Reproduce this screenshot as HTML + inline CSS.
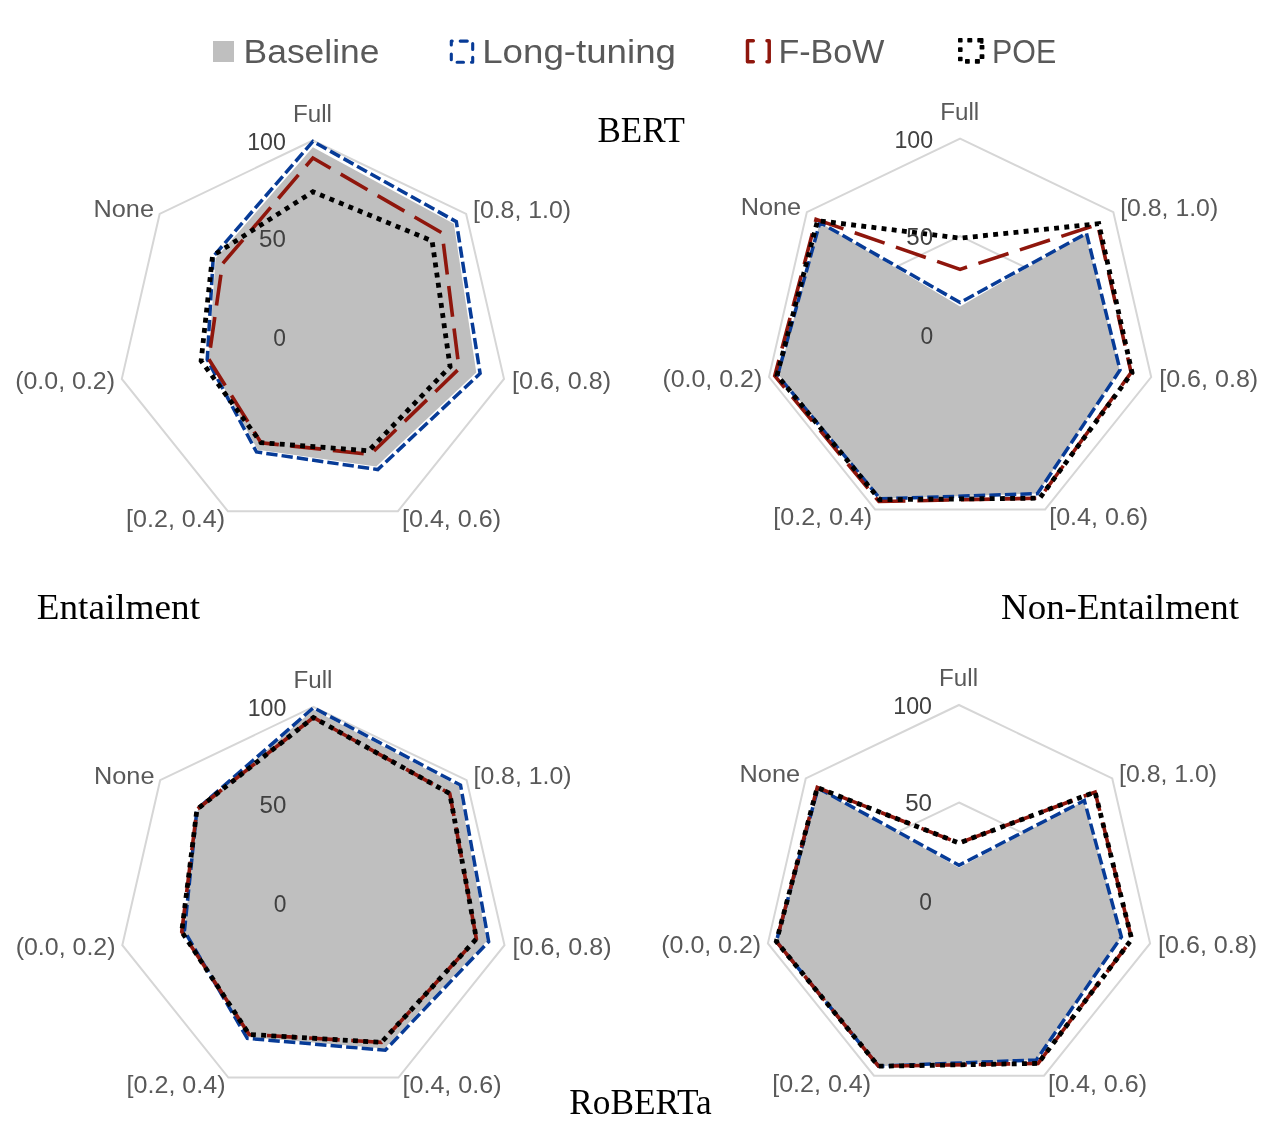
<!DOCTYPE html>
<html><head><meta charset="utf-8"><style>
html,body{margin:0;padding:0;background:#fff;}
body{width:1283px;height:1145px;overflow:hidden;}
svg{display:block;will-change:transform;}
.c{font-family:"Liberation Sans",sans-serif;font-size:23.5px;fill:#595959;}
.v{font-family:"Liberation Sans",sans-serif;font-size:23.5px;fill:#404040;}
.t{font-family:"Liberation Serif",serif;font-size:35px;fill:#000;}
.l{font-family:"Liberation Sans",sans-serif;font-size:34px;fill:#595959;}
</style></head><body>
<svg width="1283" height="1145" viewBox="0 0 1283 1145">
<polygon points="312.90,140.48 466.14,213.91 503.99,378.90 397.94,511.21 227.86,511.21 121.81,378.90 159.66,213.91" fill="none" stroke="#d6d6d6" stroke-width="2" stroke-linejoin="miter"/>
<polygon points="312.90,237.99 389.52,274.70 408.44,357.20 355.42,423.35 270.38,423.35 217.36,357.20 236.28,274.70" fill="none" stroke="#d6d6d6" stroke-width="2"/>
<polygon points="312.90,147.31 453.88,223.63 476.28,372.60 376.26,466.40 257.62,449.71 208.76,359.15 215.59,258.29" fill="#bfbfbf" stroke="none"/>
<path d="M312.90,141.46 L456.33,221.69 L480.10,373.47 L377.79,469.56 L256.52,451.99 L207.23,359.50 L213.29,256.46 Z" fill="none" stroke="#073b97" stroke-width="3.5" stroke-dasharray="11.310 4.117" stroke-dashoffset="11.111" stroke-linejoin="miter"/>
<path d="M312.90,158.03 L442.08,233.00 L459.08,368.70 L370.47,454.45 L261.02,442.68 L208.76,359.15 L222.49,263.76 Z" fill="none" stroke="#8f160c" stroke-width="3.6" stroke-dasharray="30.965 11.711" stroke-dashoffset="10.520" stroke-linejoin="miter"/>
<path d="M312.90,191.77 L432.12,240.90 L450.10,366.66 L368.69,450.76 L261.02,442.68 L201.11,360.89 L212.53,255.86 Z" fill="none" stroke="#000000" stroke-width="4.8" stroke-dasharray="4.908 5.309" stroke-dashoffset="2.454" stroke-linejoin="miter"/>
<text x="285.9" y="149.5" text-anchor="end" class="v" textLength="38.7" lengthAdjust="spacingAndGlyphs">100</text>
<text x="285.9" y="246.5" text-anchor="end" class="v" textLength="26.8" lengthAdjust="spacingAndGlyphs">50</text>
<text x="285.9" y="345.5" text-anchor="end" class="v" textLength="12.7" lengthAdjust="spacingAndGlyphs">0</text>
<text x="312.5" y="121.5" text-anchor="middle" class="c" textLength="39.0" lengthAdjust="spacingAndGlyphs">Full</text>
<text x="473.0" y="217.5" text-anchor="start" class="c" textLength="98.0" lengthAdjust="spacingAndGlyphs">[0.8, 1.0)</text>
<text x="512.0" y="388.5" text-anchor="start" class="c" textLength="99.0" lengthAdjust="spacingAndGlyphs">[0.6, 0.8)</text>
<text x="402.0" y="527.1" text-anchor="start" class="c" textLength="99.0" lengthAdjust="spacingAndGlyphs">[0.4, 0.6)</text>
<text x="225.0" y="527.1" text-anchor="end" class="c" textLength="98.9" lengthAdjust="spacingAndGlyphs">[0.2, 0.4)</text>
<text x="115.0" y="388.5" text-anchor="end" class="c" textLength="99.8" lengthAdjust="spacingAndGlyphs">(0.0, 0.2)</text>
<text x="154.0" y="217.2" text-anchor="end" class="c" textLength="60.5" lengthAdjust="spacingAndGlyphs">None</text>
<polygon points="960.10,138.68 1113.34,212.11 1151.19,377.10 1045.14,509.41 875.06,509.41 769.01,377.10 806.86,212.11" fill="none" stroke="#d6d6d6" stroke-width="2" stroke-linejoin="miter"/>
<polygon points="960.10,236.19 1036.72,272.90 1055.64,355.40 1002.62,421.55 917.58,421.55 864.56,355.40 883.48,272.90" fill="none" stroke="#d6d6d6" stroke-width="2"/>
<polygon points="960.10,306.40 1085.76,233.99 1119.66,369.94 1037.49,493.59 880.16,498.86 778.57,374.93 819.89,222.44" fill="#bfbfbf" stroke="none"/>
<path d="M960.10,302.50 L1086.52,233.39 L1120.04,370.02 L1037.49,493.59 L880.16,498.86 L777.61,375.14 L819.89,222.44 Z" fill="none" stroke="#073b97" stroke-width="3.5" stroke-dasharray="11.383 4.144" stroke-dashoffset="11.184" stroke-linejoin="miter"/>
<path d="M960.10,269.34 L1097.71,224.51 L1131.12,372.54 L1039.70,498.16 L878.89,501.50 L774.75,375.79 L816.06,219.40 Z" fill="none" stroke="#8f160c" stroke-width="3.6" stroke-dasharray="31.640 11.966" stroke-dashoffset="24.338" stroke-linejoin="miter"/>
<path d="M960.10,238.14 L1098.78,223.66 L1132.08,372.76 L1039.70,498.16 L879.74,499.74 L777.04,375.27 L817.59,220.62 Z" fill="none" stroke="#000000" stroke-width="4.8" stroke-dasharray="4.908 5.309" stroke-dashoffset="7.613" stroke-linejoin="miter"/>
<text x="933.1" y="147.7" text-anchor="end" class="v" textLength="38.7" lengthAdjust="spacingAndGlyphs">100</text>
<text x="933.1" y="244.7" text-anchor="end" class="v" textLength="26.8" lengthAdjust="spacingAndGlyphs">50</text>
<text x="933.1" y="343.7" text-anchor="end" class="v" textLength="12.7" lengthAdjust="spacingAndGlyphs">0</text>
<text x="959.7" y="119.7" text-anchor="middle" class="c" textLength="39.0" lengthAdjust="spacingAndGlyphs">Full</text>
<text x="1120.2" y="215.7" text-anchor="start" class="c" textLength="98.0" lengthAdjust="spacingAndGlyphs">[0.8, 1.0)</text>
<text x="1159.2" y="386.7" text-anchor="start" class="c" textLength="99.0" lengthAdjust="spacingAndGlyphs">[0.6, 0.8)</text>
<text x="1049.2" y="525.3" text-anchor="start" class="c" textLength="99.0" lengthAdjust="spacingAndGlyphs">[0.4, 0.6)</text>
<text x="872.2" y="525.3" text-anchor="end" class="c" textLength="98.9" lengthAdjust="spacingAndGlyphs">[0.2, 0.4)</text>
<text x="762.2" y="386.7" text-anchor="end" class="c" textLength="99.8" lengthAdjust="spacingAndGlyphs">(0.0, 0.2)</text>
<text x="801.2" y="215.4" text-anchor="end" class="c" textLength="60.5" lengthAdjust="spacingAndGlyphs">None</text>
<polygon points="313.40,706.78 466.64,780.21 504.49,945.20 398.44,1077.51 228.36,1077.51 122.31,945.20 160.16,780.21" fill="none" stroke="#d6d6d6" stroke-width="2" stroke-linejoin="miter"/>
<polygon points="313.40,804.29 390.02,841.00 408.94,923.50 355.92,989.65 270.88,989.65 217.86,923.50 236.78,841.00" fill="none" stroke="#d6d6d6" stroke-width="2"/>
<polygon points="313.40,709.71 458.98,786.29 486.71,941.16 384.41,1048.52 247.92,1037.09 184.42,931.09 197.70,810.00" fill="#bfbfbf" stroke="none"/>
<path d="M313.40,707.76 L460.51,785.07 L488.63,941.59 L385.26,1050.27 L247.32,1038.32 L184.42,931.09 L196.94,809.39 Z" fill="none" stroke="#073b97" stroke-width="3.5" stroke-dasharray="11.447 4.167" stroke-dashoffset="12.250" stroke-linejoin="miter"/>
<path d="M313.40,717.51 L449.78,793.58 L476.40,938.82 L381.43,1042.37 L249.19,1034.46 L181.74,931.70 L196.94,809.39 Z" fill="none" stroke="#8f160c" stroke-width="3.6" stroke-dasharray="30.642 11.589" stroke-dashoffset="20.624" stroke-linejoin="miter"/>
<path d="M313.40,717.51 L449.78,793.58 L476.40,938.82 L381.43,1042.37 L249.19,1034.46 L181.74,931.70 L196.94,809.39 Z" fill="none" stroke="#000000" stroke-width="4.8" stroke-dasharray="4.912 5.313" stroke-dashoffset="2.456" stroke-linejoin="miter"/>
<text x="286.4" y="715.8" text-anchor="end" class="v" textLength="38.7" lengthAdjust="spacingAndGlyphs">100</text>
<text x="286.4" y="812.8" text-anchor="end" class="v" textLength="26.8" lengthAdjust="spacingAndGlyphs">50</text>
<text x="286.4" y="911.8" text-anchor="end" class="v" textLength="12.7" lengthAdjust="spacingAndGlyphs">0</text>
<text x="313.0" y="687.8" text-anchor="middle" class="c" textLength="39.0" lengthAdjust="spacingAndGlyphs">Full</text>
<text x="473.5" y="783.8" text-anchor="start" class="c" textLength="98.0" lengthAdjust="spacingAndGlyphs">[0.8, 1.0)</text>
<text x="512.5" y="954.8" text-anchor="start" class="c" textLength="99.0" lengthAdjust="spacingAndGlyphs">[0.6, 0.8)</text>
<text x="402.5" y="1093.4" text-anchor="start" class="c" textLength="99.0" lengthAdjust="spacingAndGlyphs">[0.4, 0.6)</text>
<text x="225.5" y="1093.4" text-anchor="end" class="c" textLength="98.9" lengthAdjust="spacingAndGlyphs">[0.2, 0.4)</text>
<text x="115.5" y="954.8" text-anchor="end" class="c" textLength="99.8" lengthAdjust="spacingAndGlyphs">(0.0, 0.2)</text>
<text x="154.5" y="783.5" text-anchor="end" class="c" textLength="60.5" lengthAdjust="spacingAndGlyphs">None</text>
<polygon points="959.00,704.98 1112.24,778.41 1150.09,943.40 1044.04,1075.71 873.96,1075.71 767.91,943.40 805.76,778.41" fill="none" stroke="#d6d6d6" stroke-width="2" stroke-linejoin="miter"/>
<polygon points="959.00,802.49 1035.62,839.20 1054.54,921.70 1001.52,987.85 916.48,987.85 863.46,921.70 882.38,839.20" fill="none" stroke="#d6d6d6" stroke-width="2"/>
<polygon points="959.00,867.82 1083.89,800.90 1121.42,936.89 1036.39,1059.89 878.55,1066.22 776.32,941.49 818.79,788.74" fill="#bfbfbf" stroke="none"/>
<path d="M959.00,865.29 L1084.35,800.54 L1121.42,936.89 L1036.39,1059.89 L878.55,1066.22 L776.32,941.49 L818.02,788.13 Z" fill="none" stroke="#073b97" stroke-width="3.5" stroke-dasharray="11.377 4.142" stroke-dashoffset="5.689" stroke-linejoin="miter"/>
<path d="M959.00,843.05 L1095.08,792.03 L1131.74,939.23 L1038.09,1063.41 L878.55,1066.22 L776.32,941.49 L817.25,787.53 Z" fill="none" stroke="#8f160c" stroke-width="3.6" stroke-dasharray="31.489 11.909" stroke-dashoffset="40.370" stroke-linejoin="miter"/>
<path d="M959.00,843.05 L1095.08,792.03 L1131.74,939.23 L1038.09,1063.41 L878.55,1066.22 L776.32,941.49 L817.25,787.53 Z" fill="none" stroke="#000000" stroke-width="4.8" stroke-dasharray="4.917 5.318" stroke-dashoffset="7.024" stroke-linejoin="miter"/>
<text x="932.0" y="714.0" text-anchor="end" class="v" textLength="38.7" lengthAdjust="spacingAndGlyphs">100</text>
<text x="932.0" y="811.0" text-anchor="end" class="v" textLength="26.8" lengthAdjust="spacingAndGlyphs">50</text>
<text x="932.0" y="910.0" text-anchor="end" class="v" textLength="12.7" lengthAdjust="spacingAndGlyphs">0</text>
<text x="958.6" y="686.0" text-anchor="middle" class="c" textLength="39.0" lengthAdjust="spacingAndGlyphs">Full</text>
<text x="1119.1" y="782.0" text-anchor="start" class="c" textLength="98.0" lengthAdjust="spacingAndGlyphs">[0.8, 1.0)</text>
<text x="1158.1" y="953.0" text-anchor="start" class="c" textLength="99.0" lengthAdjust="spacingAndGlyphs">[0.6, 0.8)</text>
<text x="1048.1" y="1091.6" text-anchor="start" class="c" textLength="99.0" lengthAdjust="spacingAndGlyphs">[0.4, 0.6)</text>
<text x="871.1" y="1091.6" text-anchor="end" class="c" textLength="98.9" lengthAdjust="spacingAndGlyphs">[0.2, 0.4)</text>
<text x="761.1" y="953.0" text-anchor="end" class="c" textLength="99.8" lengthAdjust="spacingAndGlyphs">(0.0, 0.2)</text>
<text x="800.1" y="781.7" text-anchor="end" class="c" textLength="60.5" lengthAdjust="spacingAndGlyphs">None</text>
<text x="597.4" y="141.6" class="t" textLength="87.4" lengthAdjust="spacingAndGlyphs">BERT</text>
<text x="36.8" y="618.7" class="t" textLength="163.2" lengthAdjust="spacingAndGlyphs">Entailment</text>
<text x="1001" y="618.8" class="t" textLength="238" lengthAdjust="spacingAndGlyphs">Non-Entailment</text>
<text x="569.2" y="1114.3" class="t" textLength="142.6" lengthAdjust="spacingAndGlyphs">RoBERTa</text>
<rect x="213" y="41" width="21" height="21" fill="#bfbfbf"/>
<text x="243.6" y="63.3" class="l" textLength="135.8" lengthAdjust="spacingAndGlyphs">Baseline</text>
<path d="M451.3,45 V41.1 H452.2 M460.2,41.1 H467.3 M472.7,43.6 V49.5 M472.7,57.2 V62.3 H471.5 M463.5,62.3 H457.1 M451.3,59.7 V54.1" fill="none" stroke="#073b97" stroke-width="3.1" stroke-linecap="round" stroke-linejoin="round"/>
<text x="482.2" y="62.5" class="l" textLength="193.8" lengthAdjust="spacingAndGlyphs">Long-tuning</text>
<path d="M753.3,40.8 H747.5 V61.8 H753.3 M767,40.8 H769.2 V61.8 H767" fill="none" stroke="#8f160c" stroke-width="3.5" stroke-linecap="round" stroke-linejoin="round"/>
<text x="778.4" y="62.5" class="l" textLength="106" lengthAdjust="spacingAndGlyphs">F-BoW</text>
<g fill="#000"><rect x="958" y="38" width="4.6" height="4.6" rx="0.8"/><rect x="967.3" y="38" width="5.0" height="4.6" rx="0.8"/><rect x="977.3" y="38" width="6.0" height="4.6" rx="0.8"/><rect x="979.6" y="45" width="4.8" height="4.6" rx="0.8"/><rect x="979.6" y="54.3" width="4.8" height="4.7" rx="0.8"/><rect x="974.9" y="59" width="5.0" height="4.7" rx="0.8"/><rect x="965" y="59" width="4.8" height="4.7" rx="0.8"/><rect x="958" y="56.7" width="4.6" height="4.6" rx="0.8"/><rect x="958" y="47.3" width="4.6" height="4.7" rx="0.8"/><rect x="980.2" y="38.5" width="3.1" height="5.2"/></g>
<text x="992" y="62.5" class="l" textLength="64.2" lengthAdjust="spacingAndGlyphs">POE</text>
</svg>
</body></html>
